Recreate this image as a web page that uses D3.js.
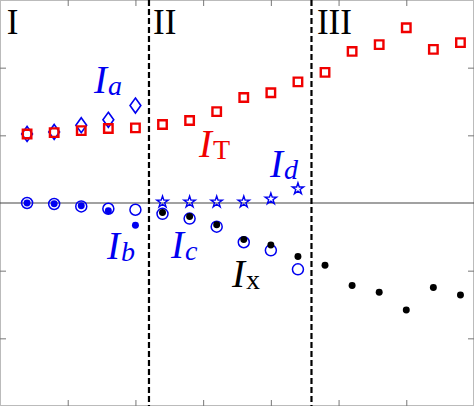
<!DOCTYPE html>
<html>
<head>
<meta charset="utf-8">
<script src="https://cdn.jsdelivr.net/npm/d3@7"></script>
<style>
body { margin: 0; background: #fff; }
svg { display: block; }
</style>
</head>
<body>
<script>
// x positions of the samples in each region
var xI = [0.4, 0.8, 1.2, 1.6, 2.0];
var xII = [2.4, 2.8, 3.2, 3.6, 4.0, 4.4];
var xIII = [4.8, 5.2, 5.6, 6.0, 6.4, 6.8];

// series values
var IT = [1.02, 1.04, 1.07, 1.10, 1.11, 1.16, 1.22, 1.35, 1.56, 1.63, 1.79, 1.93, 2.24, 2.34, 2.59, 2.27, 2.37];
var Ia = [1.02, 1.05, 1.15, 1.23, 1.44];
var Ib = [0.0, -0.01, -0.04, -0.115, -0.33];
var Ic = [0.0, -0.015, -0.05, -0.085, -0.10, -0.16, -0.23, -0.35, -0.58, -0.70, -0.98];
var Id = [0.015, 0.015, 0.015, 0.015, 0.06, 0.21];
var Ix = [-0.14, -0.2, -0.32, -0.54, -0.62, -0.79, -0.92, -1.22, -1.32, -1.58, -1.25, -1.36];

var xTicks = [1, 2, 3, 4, 5, 6];
var yTicks = [-2, -1, 1, 2];
var dividers = [2.2, 4.6];
var regions = ["I", "II", "III"];

var W = 474, H = 406;
var blue = "#0000f0", red = "#f00000";

function zip(xs, ys) {
	return ys.map(function(v, i){ return [xs[i], v]; });
}

function main(){
	var svg = d3.select('body').append('svg').attr('width', W).attr('height', H);

	x = d3.scaleLinear().domain([0, 7]).range([0, W]);
	y = d3.scaleLinear().domain([-3, 3]).range([H, 0]);

	// frame
	svg.append('rect')
		.attr('x', 0.5).attr('y', 0.5)
		.attr('width', W - 1).attr('height', H - 1)
		.attr('fill', 'none').attr('stroke', '#bbb');

	// inward ticks on all four sides
	var axes = [
		[d3.axisTop(x).tickValues(xTicks).tickSize(-6), 0, 0],
		[d3.axisBottom(x).tickValues(xTicks).tickSize(-6), 0, H],
		[d3.axisLeft(y).tickValues(yTicks).tickSize(-6), 0, 0],
		[d3.axisRight(y).tickValues(yTicks).tickSize(-6), W, 0]
	];
	axes.forEach(function(a){
		var g = svg.append('g')
			.attr('transform', 'translate(' + a[1] + ',' + a[2] + ')')
			.call(a[0].tickFormat(''));
		g.select('.domain').remove();
		g.selectAll('line').attr('stroke', '#777');
	});

	// zero line
	svg.append('line')
		.attr('x1', 0).attr('x2', W)
		.attr('y1', y(0)).attr('y2', y(0))
		.attr('stroke', '#444').attr('stroke-width', 1.2);

	// region dividers
	svg.selectAll('.divider')
		.data(dividers)
		.enter()
		.append('line')
		.attr('class', 'divider')
		.attr('x1', function(d){ return x(d); })
		.attr('x2', function(d){ return x(d); })
		.attr('y1', 0).attr('y2', H)
		.attr('stroke', '#000')
		.attr('stroke-width', 2.2)
		.attr('stroke-dasharray', '6,3');

	// diamond a bit wider than d3's own
	var diamond = {
		draw: function(ctx, size){
			var h = Math.sqrt(size) * 0.75, w = h * 0.72;
			ctx.moveTo(0, -h);
			ctx.lineTo(w, 0);
			ctx.lineTo(0, h);
			ctx.lineTo(-w, 0);
			ctx.closePath();
		}
	};

	var series = [
		{ pts: zip(xI, Ia), type: diamond, size: 100, fill: 'none', stroke: blue, sw: 1.6 },
		{ pts: zip(xI.concat(xII, xIII), IT), type: d3.symbolSquare, size: 72, fill: 'none', stroke: red, sw: 2.4 },
		{ pts: zip(xI.concat(xII), Ic), type: d3.symbolCircle, size: 95, fill: 'none', stroke: blue, sw: 1.5 },
		{ pts: zip(xI, Ib), type: d3.symbolCircle, size: 38, fill: blue, stroke: 'none', sw: 0 },
		{ pts: zip(xII.concat(xIII), Ix), type: d3.symbolCircle, size: 38, fill: '#000', stroke: 'none', sw: 0 },
		{ pts: zip(xII, Id), type: d3.symbolStar, size: 40, fill: 'none', stroke: blue, sw: 1.4 }
	];

	series.forEach(function(s){
		svg.append('g').selectAll('path')
			.data(s.pts)
			.enter()
			.append('path')
			.attr('transform', function(d){ return 'translate(' + x(d[0]) + ',' + y(d[1]) + ')'; })
			.attr('d', d3.symbol().type(s.type).size(s.size))
			.attr('fill', s.fill)
			.attr('stroke', s.stroke)
			.attr('stroke-width', s.sw);
	});

	// region numerals
	var rx = [0.1, 2.26, 4.68];
	svg.selectAll('.region')
		.data(regions)
		.enter()
		.append('text')
		.attr('class', 'region')
		.attr('x', function(d, i){ return x(rx[i]); })
		.attr('y', 34)
		.attr('font-family', '"Liberation Serif", "Times New Roman", serif')
		.attr('font-size', 35)
		.attr('fill', '#000')
		.text(function(d){ return d; });

	// current labels
	var labels = [
		{ x: 94, y: 93, sub: 'a', it: true, color: blue },
		{ x: 199, y: 157, sub: 'T', it: false, color: red },
		{ x: 270, y: 177, sub: 'd', it: true, color: blue },
		{ x: 107, y: 259, sub: 'b', it: true, color: blue },
		{ x: 171, y: 258, sub: 'c', it: true, color: blue },
		{ x: 232, y: 287, sub: 'x', it: false, color: '#000' }
	];
	labels.forEach(function(l){
		var t = svg.append('text')
			.attr('x', l.x).attr('y', l.y)
			.attr('font-family', '"Liberation Serif", "Times New Roman", serif')
			.attr('fill', l.color);
		t.append('tspan')
			.attr('font-style', 'italic')
			.attr('font-size', 39)
			.text('I');
		t.append('tspan')
			.attr('font-style', l.it ? 'italic' : 'normal')
			.attr('font-size', 28)
			.attr('dx', 1)
			.attr('dy', 2)
			.text(l.sub);
	});
}

main();
</script>
</body>
</html>
